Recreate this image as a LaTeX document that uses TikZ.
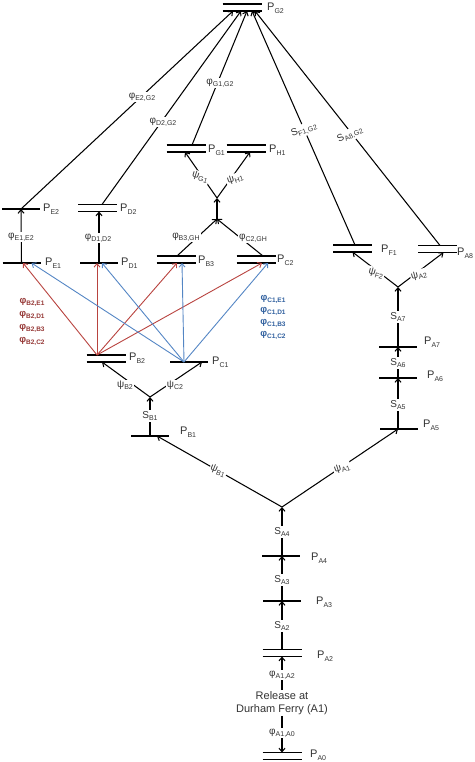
\documentclass[tikz,border=0pt]{standalone}
\usepackage{fontspec}
\setmainfont{Liberation Sans}
\usetikzlibrary{arrows.meta}
\definecolor{redl}{HTML}{B8433F}
\definecolor{bluel}{HTML}{5486C4}
\definecolor{redt}{HTML}{953735}
\definecolor{bluet}{HTML}{2F5F9E}
\definecolor{txt}{HTML}{333333}
\newcommand\lbl[2]{#1\raisebox{-0.45ex}{\fontsize{7}{8}\selectfont #2}}
\newcommand\lbs[2]{#1\raisebox{-0.4ex}{\fontsize{6.5}{7}\selectfont #2}}
\begin{document}
\begin{tikzpicture}[x=1pt,y=-1pt,
  sbar/.style={minimum width=38pt,minimum height=0pt,inner sep=0pt,outer sep=0pt},
  dbar/.style={minimum width=39pt,minimum height=7pt,inner sep=0pt,outer sep=0pt},
  barline/.style={line width=1.3pt,black},
  arr/.style={line width=1.05pt,black,-{Straight Barb[length=3.5pt,width=6pt]}},
  carr/.style={line width=0.9pt,-{Straight Barb[length=3.5pt,width=6pt]}},
  lab/.style={fill=white,inner sep=1pt,text=txt,font=\fontsize{10}{12}\selectfont},
  plab/.style={anchor=west,inner sep=0pt,text=txt,font=\fontsize{11}{13}\selectfont},
  rlab/.style={inner sep=0pt,text=redt,font=\bfseries\fontsize{9.5}{11}\selectfont},
  blab/.style={inner sep=0pt,text=bluet,font=\bfseries\fontsize{9.5}{11}\selectfont}]
\useasboundingbox (0,0) rectangle (474,762);
% ---- bars
\node[dbar] (PG2) at (242,7.5) {};
\node[sbar] (PE2) at (21,209) {};
\node[dbar] (PD2) at (97.5,208) {};
\node[dbar] (PG1) at (186,148.5) {};
\node[dbar] (PH1) at (246,148.5) {};
\node[sbar] (PE1) at (21.5,263) {};
\node[sbar] (PD1) at (99,263) {};
\node[dbar] (PB3) at (176,259.5) {};
\node[dbar] (PC2) at (256,259.5) {};
\node[dbar] (PB2) at (106,358.5) {};
\node[sbar] (PC1) at (189,362) {};
\node[sbar] (PB1) at (150,436) {};
\node[sbar] (PA5) at (399,429) {};
\node[sbar] (PA6) at (398,378) {};
\node[sbar] (PA7) at (398,347) {};
\node[dbar] (PF1) at (352.5,248.5) {};
\node[dbar] (PA8) at (437.5,249) {};
\node[sbar] (PA4) at (281,556) {};
\node[sbar] (PA3) at (282,601) {};
\node[dbar] (PA2) at (282,653) {};
\node[dbar] (PA0) at (282,756) {};
\foreach \n in {PE2,PE1,PD1,PC1,PB1,PA5,PA6,PA7,PA4,PA3}
  \draw[barline] (\n.west) -- (\n.east);
\foreach \n in {PG2,PD2,PG1,PH1,PB3,PC2,PB2,PF1,PA8,PA2,PA0}
  {\draw[barline] (\n.north west) -- (\n.north east);
   \draw[barline] (\n.south west) -- (\n.south east);}
% ---- junctions
\coordinate (JA) at (282,507);
\coordinate (JB) at (150,397);
\coordinate (JGH) at (217,198);
\coordinate (JGH2) at (217,219);
\coordinate (JFA) at (398,287);
\node[align=center,inner sep=1pt,text=txt,font=\fontsize{11}{13}\selectfont] (rel) at (282,703) {Release at\\Durham Ferry (A1)};
% ---- black connectors
\draw[arr] (rel.north) -- (PA2.south);
\draw[arr] (rel.south) -- (PA0.north);
\draw[arr] (PA2.north) -- (PA3.center);
\draw[arr] (PA3.center) -- (PA4 -| PA3);
\draw[arr] (PA4 -| JA) -- (JA);
\draw[arr] (JA) -- ([xshift=7pt]PB1.center);
\draw[arr] (JA) -- ([xshift=-1pt]PA5.center);
\draw[arr] (PA5 -| PA6) -- (PA6.center);
\draw[arr] (PA6.center) -- (PA7.center);
\draw[arr] (PA7.center) -- (JFA);
\draw[arr] (JFA) -- (PF1.south);
\draw[arr] (JFA) -- ([xshift=6pt]PA8.south);
\draw[arr] (PB1.center) -- (JB);
\draw[arr] (JB) -- ([xshift=-4pt]PB2.south);
\draw[arr] (JB) -- ([xshift=13pt]PC1.center);
\draw[arr] (PE1.center) -- (PE2.center);
\draw[arr] (PD1.center) -- (PD1 |- PD2.south);
\draw[arr] ([xshift=1pt]PB3.north) -- (JGH2);
\draw[arr] ([xshift=7pt]PC2.north) -- (JGH2);
\draw[arr] (JGH2) -- (JGH);
\draw[arr] (JGH) -- ([xshift=-1pt]PG1.south);
\draw[arr] (JGH) -- ([xshift=4pt]PH1.south);
\draw[arr] (PE2.center) -- ([xshift=-9pt]PG2.south);
\draw[arr] ([xshift=4.5pt]PD2.north) -- ([xshift=-1pt]PG2.south);
\draw[arr] ([xshift=6pt]PG1.north) -- ([xshift=5pt]PG2.south);
\draw[arr] ([xshift=2.5pt]PF1.north) -- ([xshift=10pt]PG2.south);
\draw[arr] ([xshift=2.5pt]PA8.north) -- ([xshift=13pt]PG2.south);
% ---- coloured connectors
\foreach \t/\s in {PE1/1.5,PD1/-2} \draw[carr,redl] ([xshift=-9pt]PB2.north) -- ([xshift=\s pt]\t.center);
\foreach \t/\s in {PB3/1,PC2/6} \draw[carr,redl] ([xshift=-9pt]PB2.north) -- ([xshift=\s pt]\t.south);
\foreach \t/\s in {PE1/10,PD1/3} \draw[carr,bluel] ([xshift=-5pt]PC1.center) -- ([xshift=\s pt]\t.center);
\foreach \t/\s in {PB3/6,PC2/12} \draw[carr,bluel] ([xshift=-5pt]PC1.center) -- ([xshift=\s pt]\t.south);
% ---- connector labels
\node[lab] (l1) at (282,733) {\lbl{φ}{A1,A0}};
\node[lab] (l2) at (282,675) {\lbl{φ}{A1,A2}};
\node[lab] (l3) at (282,626) {\lbl{S}{A2}};
\node[lab] (l4) at (282,580) {\lbl{S}{A3}};
\node[lab] (l5) at (282,532) {\lbl{S}{A4}};
\node[lab,rotate=-22] (l6) at (218,471) {\lbl{ψ}{B1}};
\node[lab,rotate=18] (l7) at (342,468) {\lbl{ψ}{A1}};
\node[lab] (l8) at (398,405) {\lbl{S}{A5}};
\node[lab] (l9) at (398,363) {\lbl{S}{A6}};
\node[lab] (l10) at (398,317) {\lbl{S}{A7}};
\node[lab,rotate=-15] (l11) at (376,273) {\lbl{ψ}{F2}};
\node[lab,rotate=15] (l12) at (419,275) {\lbl{ψ}{A2}};
\node[lab] (l13) at (150,416) {\lbl{S}{B1}};
\node[lab] (l14) at (125,385) {\lbl{ψ}{B2}};
\node[lab] (l15) at (175,385) {\lbl{ψ}{C2}};
\node[lab] (l16) at (21,237) {\lbl{φ}{E1,E2}};
\node[lab] (l17) at (98,238) {\lbl{φ}{D1,D2}};
\node[lab] (l18) at (186,237) {\lbl{φ}{B3,GH}};
\node[lab] (l19) at (253,238) {\lbl{φ}{C2,GH}};
\node[lab,rotate=-18] (l20) at (200,177) {\lbl{ψ}{G1}};
\node[lab,rotate=18] (l21) at (235,179) {\lbl{ψ}{H1}};
\node[lab] (l22) at (142,97) {\lbl{φ}{E2,G2}};
\node[lab] (l23) at (163,122) {\lbl{φ}{D2,G2}};
\node[lab] (l24) at (220,83) {\lbl{φ}{G1,G2}};
\node[lab,rotate=20] (l25) at (304,130) {\lbl{S}{F1,G2}};
\node[lab,rotate=28] (l26) at (350,135) {\lbl{S}{A8,G2}};
% ---- coloured labels
\node[rlab] (r1) at (32,302) {\lbs{φ}{B2,E1}};
\node[rlab] (r2) at (32,315) {\lbs{φ}{B2,D1}};
\node[rlab] (r3) at (32,328) {\lbs{φ}{B2,B3}};
\node[rlab] (r4) at (32,341) {\lbs{φ}{B2,C2}};
\node[blab] (b1) at (273,299) {\lbs{φ}{C1,E1}};
\node[blab] (b2) at (273,311) {\lbs{φ}{C1,D1}};
\node[blab] (b3) at (273,323) {\lbs{φ}{C1,B3}};
\node[blab] (b4) at (273,335) {\lbs{φ}{C1,C2}};
% ---- bar labels
\node[plab] (tG2) at (267,8) {\lbl{P}{G2}};
\node[plab] (tE2) at (43,209) {\lbl{P}{E2}};
\node[plab] (tD2) at (120,209) {\lbl{P}{D2}};
\node[plab] (tG1) at (208,150) {\lbl{P}{G1}};
\node[plab] (tH1) at (269,150) {\lbl{P}{H1}};
\node[plab] (tE1) at (45,263) {\lbl{P}{E1}};
\node[plab] (tD1) at (121,263) {\lbl{P}{D1}};
\node[plab] (tB3) at (198,261) {\lbl{P}{B3}};
\node[plab] (tC2) at (277,260) {\lbl{P}{C2}};
\node[plab] (tB2) at (129,358) {\lbl{P}{B2}};
\node[plab] (tC1) at (212,362) {\lbl{P}{C1}};
\node[plab] (tB1) at (180,432) {\lbl{P}{B1}};
\node[plab] (tA5) at (423,425) {\lbl{P}{A5}};
\node[plab] (tA6) at (427,376) {\lbl{P}{A6}};
\node[plab] (tA7) at (424,342) {\lbl{P}{A7}};
\node[plab] (tF1) at (381,250) {\lbl{P}{F1}};
\node[plab] (tA8) at (457,253) {\lbl{P}{A8}};
\node[plab] (tA4) at (311,558) {\lbl{P}{A4}};
\node[plab] (tA3) at (316,602) {\lbl{P}{A3}};
\node[plab] (tA2) at (317,656) {\lbl{P}{A2}};
\node[plab] (tA0) at (310,755) {\lbl{P}{A0}};
\end{tikzpicture}
\end{document}
